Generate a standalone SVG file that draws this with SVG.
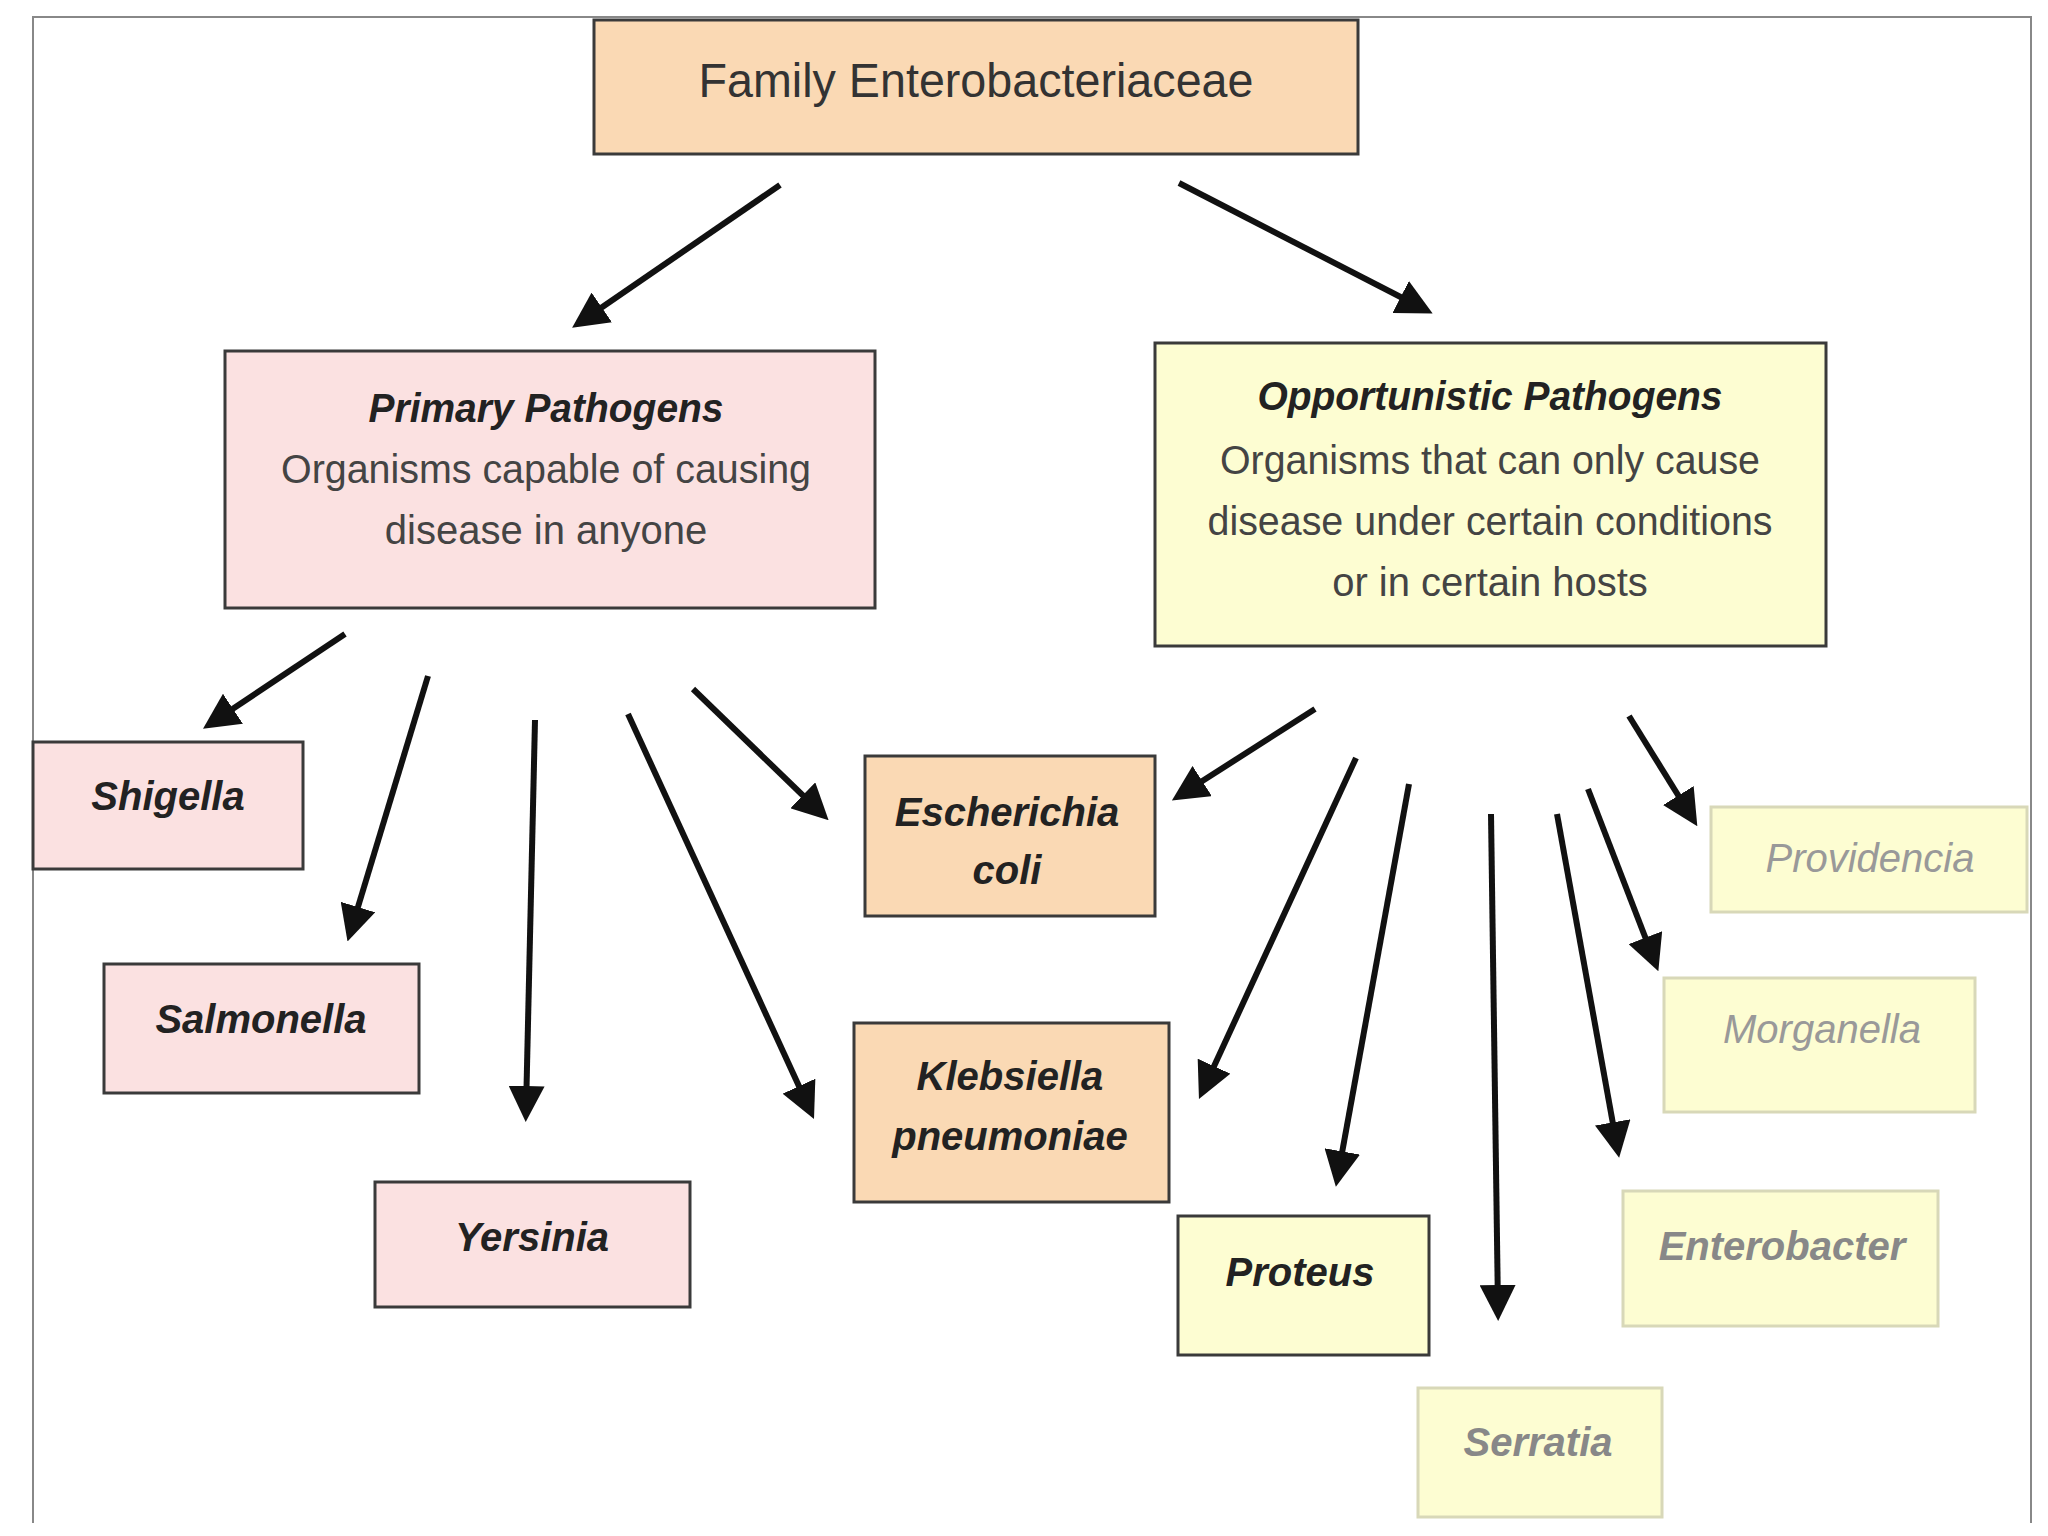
<svg xmlns="http://www.w3.org/2000/svg" width="2048" height="1536" viewBox="0 0 2048 1536">
<style>
.b{stroke:#3a3a3a;stroke-width:3}
.lb{stroke:#d8d8b8;stroke-width:3}
.pe{fill:#fad9b4}.pk{fill:#fbe1e1}.ye{fill:#fdfdd2}
text{font-family:"Liberation Sans",Arial,sans-serif;text-anchor:middle}
.t{font-size:40px;fill:#444}
.h{font-size:40px;font-weight:bold;font-style:italic;fill:#222}
.g{font-size:40px;font-style:italic;fill:#999}
.gb{font-size:40px;font-style:italic;font-weight:bold;fill:#888}
.c line{stroke:#111;stroke-width:6;marker-end:url(#a)}
</style>
<defs><marker id="a" markerWidth="6" markerHeight="6" refX="4" refY="3" orient="auto" markerUnits="strokeWidth"><path d="M0,0 L6,3 L0,6 z" fill="#111"/></marker></defs>
<rect width="2048" height="1536" fill="#fff"/>
<path d="M33,1523 V17 H2031 V1523" fill="none" stroke="#888" stroke-width="2"/>
<g id="family"><rect class="pe b" x="594" y="20" width="764" height="134"/><text x="976" y="97" style="font-size:48px;fill:#333" textLength="555" lengthAdjust="spacingAndGlyphs">Family Enterobacteriaceae</text></g>
<g id="primary"><rect class="pk b" x="225" y="351" width="650" height="257"/><text class="h" x="546" y="422" textLength="355" lengthAdjust="spacingAndGlyphs">Primary Pathogens</text><text class="t" x="546" y="483" textLength="530" lengthAdjust="spacingAndGlyphs">Organisms capable of causing</text><text class="t" x="546" y="544">disease in anyone</text></g>
<g id="opportunistic"><rect class="ye b" x="1155" y="343" width="671" height="303"/><text class="h" x="1490" y="410" textLength="465" lengthAdjust="spacingAndGlyphs">Opportunistic Pathogens</text><text class="t" x="1490" y="474" textLength="540" lengthAdjust="spacingAndGlyphs">Organisms that can only cause</text><text class="t" x="1490" y="535" textLength="565" lengthAdjust="spacingAndGlyphs">disease under certain conditions</text><text class="t" x="1490" y="596">or in certain hosts</text></g>
<g id="shigella"><rect class="pk b" x="33" y="742" width="270" height="127"/><text class="h" x="168" y="810">Shigella</text></g>
<g id="salmonella"><rect class="pk b" x="104" y="964" width="315" height="129"/><text class="h" x="261" y="1033">Salmonella</text></g>
<g id="yersinia"><rect class="pk b" x="375" y="1182" width="315" height="125"/><text class="h" x="532" y="1251">Yersinia</text></g>
<g id="ecoli"><rect class="pe b" x="865" y="756" width="290" height="160"/><text class="h" x="1007" y="826">Escherichia</text><text class="h" x="1007" y="884">coli</text></g>
<g id="klebsiella"><rect class="pe b" x="854" y="1023" width="315" height="179"/><text class="h" x="1010" y="1090">Klebsiella</text><text class="h" x="1010" y="1150">pneumoniae</text></g>
<g id="proteus"><rect class="ye b" x="1178" y="1216" width="251" height="139"/><text class="h" x="1300" y="1286">Proteus</text></g>
<g id="serratia"><rect class="ye lb" x="1418" y="1388" width="244" height="129"/><text class="gb" x="1538" y="1456">Serratia</text></g>
<g id="enterobacter"><rect class="ye lb" x="1623" y="1191" width="315" height="135"/><text class="gb" x="1782" y="1260">Enterobacter</text></g>
<g id="morganella"><rect class="ye lb" x="1664" y="978" width="311" height="134"/><text class="g" x="1822" y="1043">Morganella</text></g>
<g id="providencia"><rect class="ye lb" x="1711" y="807" width="316" height="105"/><text class="g" x="1870" y="872">Providencia</text></g>
<g class="c" id="connectors">
<line x1="780" y1="185" x2="582" y2="321"/>
<line x1="1179" y1="183" x2="1422" y2="308"/>
<line x1="345" y1="634" x2="213" y2="722"/>
<line x1="428" y1="676" x2="351" y2="930"/>
<line x1="535" y1="720" x2="526" y2="1110"/>
<line x1="628" y1="714" x2="809" y2="1108"/>
<line x1="693" y1="689" x2="820" y2="812"/>
<line x1="1315" y1="709" x2="1182" y2="794"/>
<line x1="1356" y1="758" x2="1204" y2="1088"/>
<line x1="1409" y1="784" x2="1338" y2="1175"/>
<line x1="1491" y1="814" x2="1498" y2="1309"/>
<line x1="1557" y1="814" x2="1617" y2="1146"/>
<line x1="1588" y1="789" x2="1654" y2="960"/>
<line x1="1629" y1="716" x2="1691" y2="816"/>
</g>
</svg>
